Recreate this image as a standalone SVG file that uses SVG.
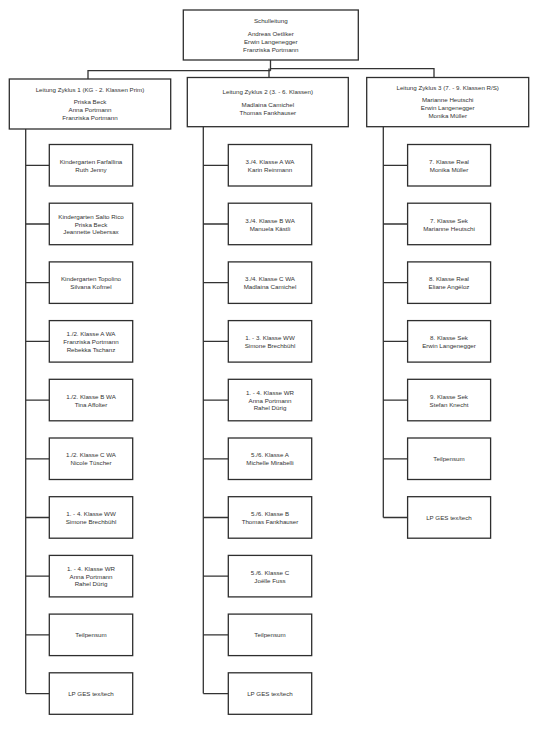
<svg xmlns="http://www.w3.org/2000/svg" width="539" height="730" viewBox="0 0 539 730">
<style>
.box{fill:#ffffff;stroke:#2e2e2e;stroke-width:1.3}
.c{fill:none;stroke:#333333;stroke-width:1.3}
text{font-family:"Liberation Sans",Arial,sans-serif;font-size:6.2px;fill:#333333;text-anchor:middle;dominant-baseline:central}
</style>
<rect width="539" height="730" fill="#ffffff"/>
<g id="connectors">
<path class="c" d="M270.5 60V70.7M270.5 70.7H88V79M270.5 68.6H434V77.5M269 68.6V77.5"/>
<path class="c" d="M25.7 129V693.6M25.7 165.3H49.3M25.7 224H49.3M25.7 282.7H49.3M25.7 341.4H49.3M25.7 400.1H49.3M25.7 458.8H49.3M25.7 517.5H49.3M25.7 576.2H49.3M25.7 634.9H49.3M25.7 693.6H49.3"/>
<path class="c" d="M203.3 126.7V693.6M203.3 165.3H228.3M203.3 224H228.3M203.3 282.7H228.3M203.3 341.4H228.3M203.3 400.1H228.3M203.3 458.8H228.3M203.3 517.5H228.3M203.3 576.2H228.3M203.3 634.9H228.3M203.3 693.6H228.3"/>
<path class="c" d="M383.3 126.7V517.5M383.3 165.3H407.6M383.3 224H407.6M383.3 282.7H407.6M383.3 341.4H407.6M383.3 400.1H407.6M383.3 458.8H407.6M383.3 517.5H407.6"/>
</g>
<g id="schulleitung">
<rect class="box" x="183.3" y="10" width="175" height="50"/>
<text x="270.8" y="20.7">Schulleitung</text>
<text x="270.8" y="33.3">Andreas Oetliker</text>
<text x="270.8" y="41.5">Erwin Langenegger</text>
<text x="270.8" y="49.5">Franziska Portmann</text>
</g>
<g id="zyklus1">
<rect class="box" x="9.3" y="79" width="161.4" height="50"/>
<text x="90" y="89.5">Leitung Zyklus 1 (KG - 2. Klassen Prim)</text>
<text x="90" y="101.5">Priska Beck</text>
<text x="90" y="109.5">Anna Portmann</text>
<text x="90" y="117.5">Franziska Portmann</text>
</g>
<g id="zyklus2">
<rect class="box" x="187.3" y="77.5" width="161" height="49.2"/>
<text x="267.8" y="91.5">Leitung Zyklus 2 (3. - 6. Klassen)</text>
<text x="267.8" y="104.5">Madlaina Camichel</text>
<text x="267.8" y="112.3">Thomas Fankhauser</text>
</g>
<g id="zyklus3">
<rect class="box" x="366.7" y="77.5" width="162" height="49.2"/>
<text x="447.7" y="87.5">Leitung Zyklus 3 (7. - 9. Klassen R/S)</text>
<text x="447.7" y="99.5">Marianne Heutschi</text>
<text x="447.7" y="107.3">Erwin Langenegger</text>
<text x="447.7" y="115">Monika Müller</text>
</g>
<g id="z1-kg-farfallina"><rect class="box" x="49.3" y="144.5" width="83.4" height="41.5"/><text x="91" y="161.3">Kindergarten Farfallina</text><text x="91" y="169.3">Ruth Jenny</text></g>
<g id="z1-kg-saltorico"><rect class="box" x="49.3" y="203.2" width="83.4" height="41.5"/><text x="91" y="216.3">Kindergarten Salto Rico</text><text x="91" y="224">Priska Beck</text><text x="91" y="231.7">Jeannette Uebersax</text></g>
<g id="z1-kg-topolino"><rect class="box" x="49.3" y="261.9" width="83.4" height="41.5"/><text x="91" y="278.7">Kindergarten Topolino</text><text x="91" y="286.7">Silvana Kofmel</text></g>
<g id="z1-12a"><rect class="box" x="49.3" y="320.6" width="83.4" height="41.5"/><text x="91" y="333.7">1./2. Klasse A WA</text><text x="91" y="341.4">Franziska Portmann</text><text x="91" y="349.1">Rebekka Tschanz</text></g>
<g id="z1-12b"><rect class="box" x="49.3" y="379.3" width="83.4" height="41.5"/><text x="91" y="396.1">1./2. Klasse B WA</text><text x="91" y="404.1">Tina Affolter</text></g>
<g id="z1-12c"><rect class="box" x="49.3" y="438" width="83.4" height="41.5"/><text x="91" y="454.8">1./2. Klasse C WA</text><text x="91" y="462.8">Nicole Tüscher</text></g>
<g id="z1-14ww"><rect class="box" x="49.3" y="496.7" width="83.4" height="41.5"/><text x="91" y="513.5">1. - 4. Klasse WW</text><text x="91" y="521.5">Simone Brechbühl</text></g>
<g id="z1-14wr"><rect class="box" x="49.3" y="555.4" width="83.4" height="41.5"/><text x="91" y="568.5">1. - 4. Klasse WR</text><text x="91" y="576.2">Anna Portmann</text><text x="91" y="583.9">Rahel Dürig</text></g>
<g id="z1-teilpensum"><rect class="box" x="49.3" y="614.1" width="83.4" height="41.5"/><text x="91" y="634.9">Teilpensum</text></g>
<g id="z1-lpges"><rect class="box" x="49.3" y="672.8" width="83.4" height="41.5"/><text x="91" y="693.6">LP GES tex/tech</text></g>
<g id="z2-34a"><rect class="box" x="228.3" y="144.5" width="83.4" height="41.5"/><text x="270" y="161.3">3./4. Klasse A WA</text><text x="270" y="169.3">Karin Reinmann</text></g>
<g id="z2-34b"><rect class="box" x="228.3" y="203.2" width="83.4" height="41.5"/><text x="270" y="220">3./4. Klasse B WA</text><text x="270" y="228">Manuela Kästli</text></g>
<g id="z2-34c"><rect class="box" x="228.3" y="261.9" width="83.4" height="41.5"/><text x="270" y="278.7">3./4. Klasse C WA</text><text x="270" y="286.7">Madlaina Camichel</text></g>
<g id="z2-13ww"><rect class="box" x="228.3" y="320.6" width="83.4" height="41.5"/><text x="270" y="337.4">1. - 3. Klasse WW</text><text x="270" y="345.4">Simone Brechbühl</text></g>
<g id="z2-14wr"><rect class="box" x="228.3" y="379.3" width="83.4" height="41.5"/><text x="270" y="392.4">1. - 4. Klasse WR</text><text x="270" y="400.1">Anna Portmann</text><text x="270" y="407.8">Rahel Dürig</text></g>
<g id="z2-56a"><rect class="box" x="228.3" y="438" width="83.4" height="41.5"/><text x="270" y="454.8">5./6. Klasse A</text><text x="270" y="462.8">Michelle Mirabelli</text></g>
<g id="z2-56b"><rect class="box" x="228.3" y="496.7" width="83.4" height="41.5"/><text x="270" y="513.5">5./6. Klasse B</text><text x="270" y="521.5">Thomas Fankhauser</text></g>
<g id="z2-56c"><rect class="box" x="228.3" y="555.4" width="83.4" height="41.5"/><text x="270" y="572.2">5./6. Klasse C</text><text x="270" y="580.2">Joëlle Fuss</text></g>
<g id="z2-teilpensum"><rect class="box" x="228.3" y="614.1" width="83.4" height="41.5"/><text x="270" y="634.9">Teilpensum</text></g>
<g id="z2-lpges"><rect class="box" x="228.3" y="672.8" width="83.4" height="41.5"/><text x="270" y="693.6">LP GES tex/tech</text></g>
<g id="z3-7real"><rect class="box" x="407.6" y="144.5" width="83" height="41.5"/><text x="449" y="161.3">7. Klasse Real</text><text x="449" y="169.3">Monika Müller</text></g>
<g id="z3-7sek"><rect class="box" x="407.6" y="203.2" width="83" height="41.5"/><text x="449" y="220">7. Klasse Sek</text><text x="449" y="228">Marianne Heutschi</text></g>
<g id="z3-8real"><rect class="box" x="407.6" y="261.9" width="83" height="41.5"/><text x="449" y="278.7">8. Klasse Real</text><text x="449" y="286.7">Eliane Angéloz</text></g>
<g id="z3-8sek"><rect class="box" x="407.6" y="320.6" width="83" height="41.5"/><text x="449" y="337.4">8. Klasse Sek</text><text x="449" y="345.4">Erwin Langenegger</text></g>
<g id="z3-9sek"><rect class="box" x="407.6" y="379.3" width="83" height="41.5"/><text x="449" y="396.1">9. Klasse Sek</text><text x="449" y="404.1">Stefan Knecht</text></g>
<g id="z3-teilpensum"><rect class="box" x="407.6" y="438" width="83" height="41.5"/><text x="449" y="458.8">Teilpensum</text></g>
<g id="z3-lpges"><rect class="box" x="407.6" y="496.7" width="83" height="41.5"/><text x="449" y="517.5">LP GES tex/tech</text></g>
</svg>
